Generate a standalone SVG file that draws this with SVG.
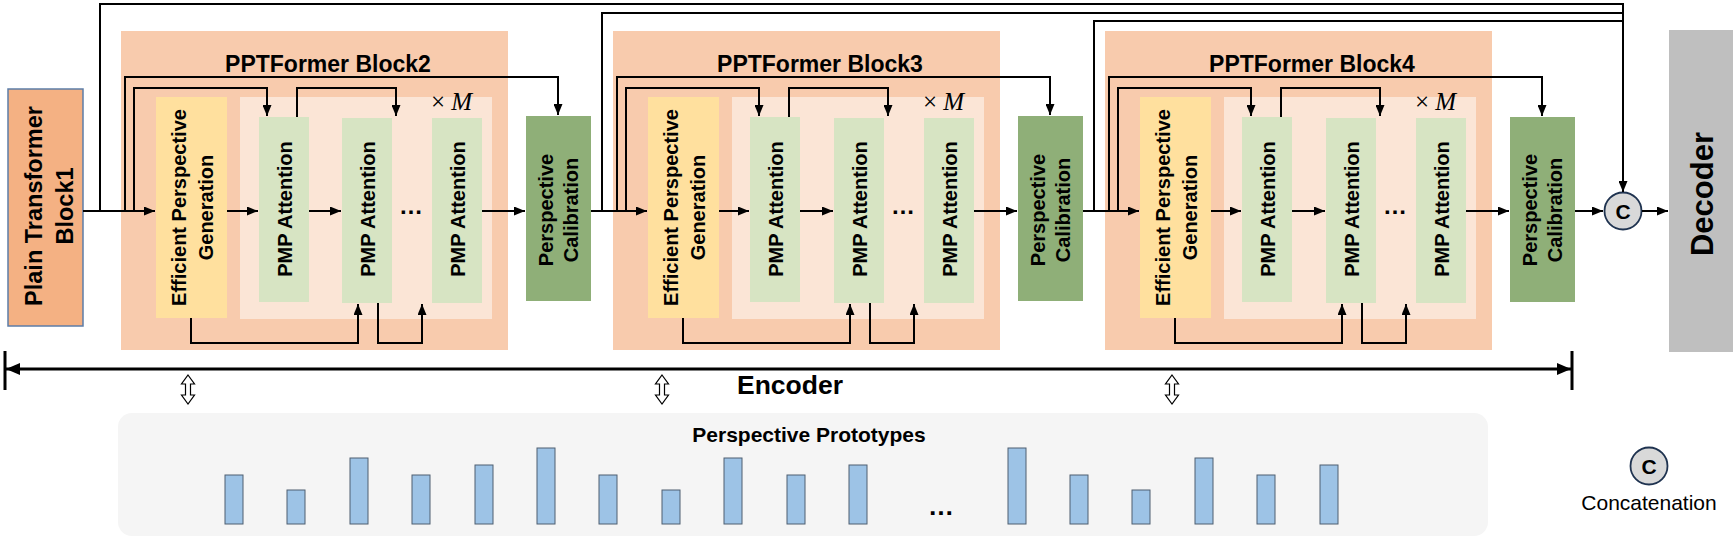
<svg xmlns="http://www.w3.org/2000/svg" width="1735" height="541" viewBox="0 0 1735 541">
<defs>
<style>
text{font-family:"Liberation Sans",Arial,sans-serif;fill:#000}
.b{font-weight:bold}
.bg{fill:#F8CBAD}
.reg{fill:#FBE5D6}
.epg{fill:#FFE09E}
.pmp{fill:#D7E4C3}
.pc{fill:#8FAF78}
.ln{fill:none;stroke:#000;stroke-width:2}
.ar{marker-end:url(#ah)}
.bar{fill:#9DC3E6;stroke:#4F5F70;stroke-width:1}
.rl{font-size:20px;font-weight:bold;text-anchor:middle}
.pl{font-size:20px;font-weight:bold;text-anchor:middle}
.ttl{font-size:23px;font-weight:bold;text-anchor:middle}
.xm{font-family:"Liberation Serif","Times New Roman",serif;font-size:25px}
.dots{font-size:24px;font-weight:bold;text-anchor:middle}
.hol{fill:#fff;stroke:#000;stroke-width:1.2}
.cc{fill:#D9D9D9;stroke:#1F3350;stroke-width:1.8}
</style>
<marker id="ah" markerUnits="userSpaceOnUse" markerWidth="11" markerHeight="9" refX="11" refY="4.5" orient="auto">
<path d="M0,0 L11,4.5 L0,9 z" fill="#000"/>
</marker>
<marker id="ahE" markerUnits="userSpaceOnUse" markerWidth="14" markerHeight="12" refX="14" refY="6" orient="auto-start-reverse">
<path d="M0,0 L14,6 L0,12 z" fill="#000"/>
</marker>
</defs>

<!-- Plain Transformer Block1 -->
<g id="plain">
<rect x="8" y="89" width="75" height="237" fill="#F4B183" stroke="#5C7DA8" stroke-width="1.5"/>
<g transform="translate(45.5,206) rotate(-90)">
<text class="b" font-size="23.5" text-anchor="middle" y="-4">Plain Transformer</text>
<text class="b" font-size="23.5" text-anchor="middle" y="27">Block1</text>
</g>
</g>

<!-- Block 2 -->
<g id="block2">
<rect class="bg" x="121" y="31" width="387" height="319"/>
<text class="ttl" x="328" y="72">PPTFormer Block2</text>
<rect class="reg" x="240" y="97" width="252" height="222"/>
<rect class="epg" x="156" y="97" width="71" height="221"/>
<g transform="translate(191.5,207.5) rotate(-90)"><text class="rl" y="-5.5">Efficient Perspective</text><text class="rl" y="21.5">Generation</text></g>
<rect class="pmp" x="259" y="117" width="50" height="185"/>
<g transform="translate(284,209) rotate(-90)"><text class="pl" y="8">PMP Attention</text></g>
<rect class="pmp" x="342" y="118" width="50" height="185"/>
<g transform="translate(367,209) rotate(-90)"><text class="pl" y="8">PMP Attention</text></g>
<rect class="pmp" x="432" y="118" width="50" height="185"/>
<g transform="translate(457,209) rotate(-90)"><text class="pl" y="8">PMP Attention</text></g>
<text class="xm" x="431" y="110">× <tspan font-style="italic">M</tspan></text>
<text class="dots" x="411" y="214">…</text>
</g>
<g id="pc2">
<rect class="pc" x="526" y="116" width="65" height="185"/>
<g transform="translate(558.5,210) rotate(-90)"><text class="rl" y="-6">Perspective</text><text class="rl" y="19.5">Calibration</text></g>
</g>

<!-- Block 3 -->
<g id="block3">
<rect class="bg" x="613" y="31" width="387" height="319"/>
<text class="ttl" x="820" y="72">PPTFormer Block3</text>
<rect class="reg" x="732" y="97" width="252" height="222"/>
<rect class="epg" x="648" y="97" width="71" height="221"/>
<g transform="translate(683.5,207.5) rotate(-90)"><text class="rl" y="-5.5">Efficient Perspective</text><text class="rl" y="21.5">Generation</text></g>
<rect class="pmp" x="750" y="117" width="50" height="185"/>
<g transform="translate(775,209) rotate(-90)"><text class="pl" y="8">PMP Attention</text></g>
<rect class="pmp" x="834" y="118" width="50" height="185"/>
<g transform="translate(859,209) rotate(-90)"><text class="pl" y="8">PMP Attention</text></g>
<rect class="pmp" x="924" y="118" width="50" height="185"/>
<g transform="translate(949,209) rotate(-90)"><text class="pl" y="8">PMP Attention</text></g>
<text class="xm" x="923" y="110">× <tspan font-style="italic">M</tspan></text>
<text class="dots" x="903" y="214">…</text>
</g>
<g id="pc3">
<rect class="pc" x="1018" y="116" width="65" height="185"/>
<g transform="translate(1050.5,210) rotate(-90)"><text class="rl" y="-6">Perspective</text><text class="rl" y="19.5">Calibration</text></g>
</g>

<!-- Block 4 -->
<g id="block4">
<rect class="bg" x="1105" y="31" width="387" height="319"/>
<text class="ttl" x="1312" y="72">PPTFormer Block4</text>
<rect class="reg" x="1224" y="97" width="252" height="222"/>
<rect class="epg" x="1140" y="97" width="71" height="221"/>
<g transform="translate(1175.5,207.5) rotate(-90)"><text class="rl" y="-5.5">Efficient Perspective</text><text class="rl" y="21.5">Generation</text></g>
<rect class="pmp" x="1242" y="117" width="50" height="185"/>
<g transform="translate(1267,209) rotate(-90)"><text class="pl" y="8">PMP Attention</text></g>
<rect class="pmp" x="1326" y="118" width="50" height="185"/>
<g transform="translate(1351,209) rotate(-90)"><text class="pl" y="8">PMP Attention</text></g>
<rect class="pmp" x="1416" y="118" width="50" height="185"/>
<g transform="translate(1441,209) rotate(-90)"><text class="pl" y="8">PMP Attention</text></g>
<text class="xm" x="1415" y="110">× <tspan font-style="italic">M</tspan></text>
<text class="dots" x="1395" y="214">…</text>
</g>
<g id="pc4">
<rect class="pc" x="1510" y="117" width="65" height="185"/>
<g transform="translate(1542.5,210) rotate(-90)"><text class="rl" y="-6">Perspective</text><text class="rl" y="19.5">Calibration</text></g>
</g>

<!-- Concatenation node -->
<g id="concat">
<circle class="cc" cx="1623" cy="211" r="18.5"/>
<text class="b" x="1623" y="218.5" font-size="21" text-anchor="middle">C</text>
</g>

<!-- Decoder -->
<g id="decoder">
<rect x="1669" y="30" width="64" height="322" fill="#BFBFBF"/>
<g transform="translate(1701,194) rotate(-90)"><text class="b" font-size="31" text-anchor="middle" y="12">Decoder</text></g>
</g>

<!-- Connectors -->
<g id="connectors">
<!-- main flow -->
<path class="ln ar" d="M83,211 H155"/>
<path class="ln ar" d="M591,211 H647"/>
<path class="ln ar" d="M1083,211 H1139"/>
<path class="ln ar" d="M1575,211 H1603"/>
<path class="ln ar" d="M1642,211 H1668"/>
<!-- long top skips to concatenation -->
<path class="ln ar" d="M100,211 V4 H1623 V192"/>
<path class="ln" d="M602,211 V13 H1623"/>
<path class="ln" d="M1094,211 V21 H1623"/>

<!-- block2 internal -->
<path class="ln ar" d="M227,211 H258"/>
<path class="ln ar" d="M309,211 H341"/>
<path class="ln ar" d="M482,211 H525"/>
<path class="ln ar" d="M125,211 V77 H558 V115"/>
<path class="ln ar" d="M134,211 V88 H267 V116"/>
<path class="ln ar" d="M297,117 V88 H396 V116"/>
<path class="ln ar" d="M191,318 V343 H358 V304"/>
<path class="ln ar" d="M378,303 V343 H422 V304"/>

<!-- block3 internal -->
<path class="ln ar" d="M719,211 H749"/>
<path class="ln ar" d="M800,211 H833"/>
<path class="ln ar" d="M974,211 H1017"/>
<path class="ln ar" d="M617,211 V77 H1050 V115"/>
<path class="ln ar" d="M626,211 V88 H759 V116"/>
<path class="ln ar" d="M789,117 V88 H888 V116"/>
<path class="ln ar" d="M683,318 V343 H850 V304"/>
<path class="ln ar" d="M870,303 V343 H914 V304"/>

<!-- block4 internal -->
<path class="ln ar" d="M1211,211 H1241"/>
<path class="ln ar" d="M1292,211 H1325"/>
<path class="ln ar" d="M1466,211 H1509"/>
<path class="ln ar" d="M1109,211 V77 H1542 V116"/>
<path class="ln ar" d="M1118,211 V88 H1251 V116"/>
<path class="ln ar" d="M1281,117 V88 H1380 V116"/>
<path class="ln ar" d="M1175,318 V343 H1342 V304"/>
<path class="ln ar" d="M1362,303 V343 H1406 V304"/>

<!-- encoder span -->
<path d="M6,369 H1571" fill="none" stroke="#000" stroke-width="3" marker-start="url(#ahE)" marker-end="url(#ahE)"/>
<path d="M5,351 V390 M1572,351 V390" stroke="#000" stroke-width="3"/>

<!-- hollow double arrows -->
<path class="hol" d="M188,375 L194.5,384 L190.5,384 L190.5,395 L194.5,395 L188,404 L181.5,395 L185.5,395 L185.5,384 L181.5,384 Z"/>
<path class="hol" d="M662,375 L668.5,384 L664.5,384 L664.5,395 L668.5,395 L662,404 L655.5,395 L659.5,395 L659.5,384 L655.5,384 Z"/>
<path class="hol" d="M1172,375 L1178.5,384 L1174.5,384 L1174.5,395 L1178.5,395 L1172,404 L1165.5,395 L1169.5,395 L1169.5,384 L1165.5,384 Z"/>
</g>

<text class="b" x="790" y="394" font-size="26.5" text-anchor="middle">Encoder</text>

<!-- Perspective Prototypes -->
<g id="prototypes">
<rect x="118" y="413" width="1370" height="123" rx="14" fill="#F5F5F5"/>
<text class="b" x="809" y="441.5" font-size="21" text-anchor="middle">Perspective Prototypes</text>
<rect class="bar" x="225" y="475" width="18" height="49"/>
<rect class="bar" x="287" y="490" width="18" height="34"/>
<rect class="bar" x="350" y="458" width="18" height="66"/>
<rect class="bar" x="412" y="475" width="18" height="49"/>
<rect class="bar" x="475" y="465" width="18" height="59"/>
<rect class="bar" x="537" y="448" width="18" height="76"/>
<rect class="bar" x="599" y="475" width="18" height="49"/>
<rect class="bar" x="662" y="490" width="18" height="34"/>
<rect class="bar" x="724" y="458" width="18" height="66"/>
<rect class="bar" x="787" y="475" width="18" height="49"/>
<rect class="bar" x="849" y="465" width="18" height="59"/>
<text class="b" x="941" y="515" font-size="26" text-anchor="middle">…</text>
<rect class="bar" x="1008" y="448" width="18" height="76"/>
<rect class="bar" x="1070" y="475" width="18" height="49"/>
<rect class="bar" x="1132" y="490" width="18" height="34"/>
<rect class="bar" x="1195" y="458" width="18" height="66"/>
<rect class="bar" x="1257" y="475" width="18" height="49"/>
<rect class="bar" x="1320" y="465" width="18" height="59"/>
</g>

<!-- Legend -->
<g id="legend">
<circle class="cc" cx="1649" cy="466" r="18.5"/>
<text class="b" x="1649" y="473.5" font-size="21" text-anchor="middle">C</text>
<text x="1649" y="510" font-size="21" text-anchor="middle">Concatenation</text>
</g>
</svg>
